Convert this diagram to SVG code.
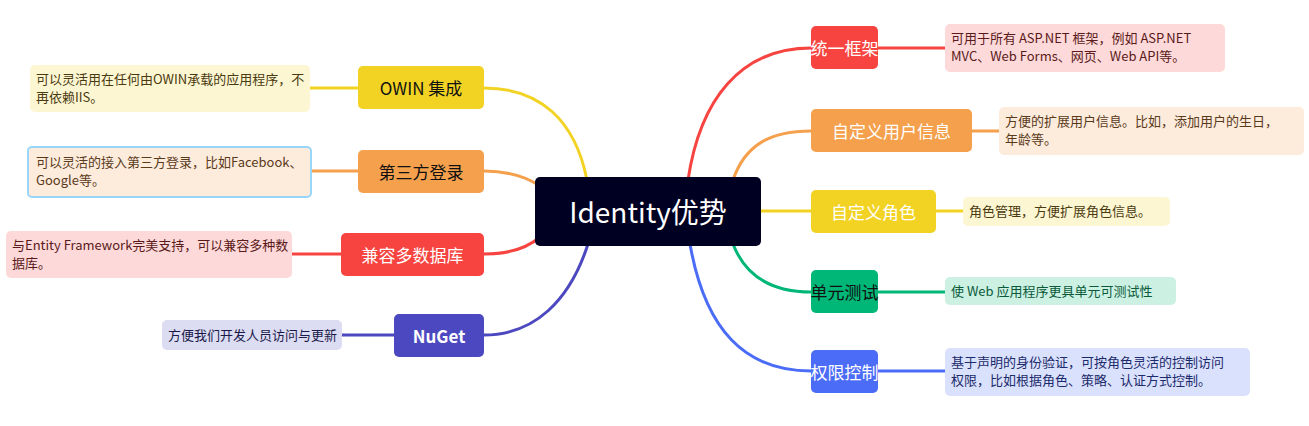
<svg xmlns="http://www.w3.org/2000/svg" width="1309" height="426" viewBox="0 0 1309 426">
<style>
text{font-family:"Noto Sans CJK SC","Noto Sans",sans-serif}
.n{font-size:17px;text-anchor:middle;dominant-baseline:central}
.t{font-size:13px}
.c{fill:none;stroke-width:3}
</style>
<rect width="1309" height="426" fill="#fff"/>
<g id="connectors">
<path class="c" stroke="#f74440" d="M688 180 C700 100 740 48 811 48 M878 48 H945"/>
<path class="c" stroke="#f5a04c" d="M733 180 C745 145 770 131 811 131 M972 131 H999"/>
<path class="c" stroke="#f2d324" d="M761 211 H811 M936 211 H963"/>
<path class="c" stroke="#00b777" d="M733 244 C745 275 770 292 811 292 M878 292 H945"/>
<path class="c" stroke="#4b6cf6" d="M690 244 C705 330 745 371 811 371 M878 371 H945"/>
<path class="c" stroke="#f2d324" d="M587 180 C575 120 540 88 484 88 M358 88 H310"/>
<path class="c" stroke="#f5a04c" d="M540 186 C525 176 505 171 484 171 M358 171 H311"/>
<path class="c" stroke="#f74440" d="M540 237 C525 250 505 254 484 254 M341 254 H292"/>
<path class="c" stroke="#4c49c0" d="M588 244 C570 300 535 335 484 335 M394 335 H342"/>
</g>
<g id="center"><rect x="535" y="177" width="226" height="69" rx="5" fill="#000022"/><text class="n" x="648" y="211" fill="#fff" style="font-size:28px">Identity优势</text></g>
<g id="r1"><rect x="811" y="26" width="67" height="43" rx="5" fill="#f74440"/><text class="n" x="844.5" y="47.5" fill="#fff">统一框架</text>
<rect x="945" y="24" width="280" height="48" rx="5" fill="#fed9d9"/><text class="t" fill="#5a1a1a"><tspan x="951" y="43">可用于所有 ASP.NET 框架，例如 ASP.NET</tspan><tspan x="951" y="61">MVC、Web Forms、网页、Web API等。</tspan></text></g>
<g id="r2"><rect x="811" y="109" width="161" height="43" rx="5" fill="#f5a04c"/><text class="n" x="891.5" y="130.5" fill="#fff">自定义用户信息</text>
<rect x="999" y="107" width="305" height="48" rx="5" fill="#fdebdc"/><text class="t" fill="#5a3a1a"><tspan x="1005" y="126">方便的扩展用户信息。比如，添加用户的生日，</tspan><tspan x="1005" y="144">年龄等。</tspan></text></g>
<g id="r3"><rect x="811" y="190" width="125" height="43" rx="5" fill="#f2d324"/><text class="n" x="873.5" y="211.5" fill="#fff">自定义角色</text>
<rect x="963" y="197" width="207" height="29" rx="5" fill="#fdf6d2"/><text class="t" fill="#4a3a10" x="969" y="216">角色管理，方便扩展角色信息。</text></g>
<g id="r4"><rect x="811" y="270" width="67" height="43" rx="5" fill="#00b777"/><text class="n" x="844.5" y="291.5" fill="#111">单元测试</text>
<rect x="945" y="277" width="231" height="28" rx="5" fill="#ccf1e3"/><text class="t" fill="#0a5a3a" x="951" y="296">使 Web 应用程序更具单元可测试性</text></g>
<g id="r5"><rect x="811" y="350" width="67" height="43" rx="5" fill="#4b6cf6"/><text class="n" x="844.5" y="371.5" fill="#fff">权限控制</text>
<rect x="945" y="348" width="305" height="48" rx="5" fill="#dae1fd"/><text class="t" fill="#1a2a6a"><tspan x="951" y="367">基于声明的身份验证，可按角色灵活的控制访问</tspan><tspan x="951" y="385">权限，比如根据角色、策略、认证方式控制。</tspan></text></g>
<g id="l1"><rect x="358" y="66" width="126" height="43" rx="5" fill="#f2d324"/><text class="n" x="421" y="87.5" fill="#111">OWIN 集成</text>
<rect x="30" y="65" width="280" height="47" rx="5" fill="#fdf6d2"/><text class="t" fill="#4a3a10"><tspan x="36" y="84">可以灵活用在任何由OWIN承载的应用程序，不</tspan><tspan x="36" y="102">再依赖IIS。</tspan></text></g>
<g id="l2"><rect x="358" y="150" width="126" height="43" rx="5" fill="#f5a04c"/><text class="n" x="421" y="171.5" fill="#111">第三方登录</text>
<rect x="28" y="147" width="283" height="50" rx="4" fill="#fdebdc" stroke="#99d6fb" stroke-width="2"/><text class="t" fill="#5a3a1a"><tspan x="36" y="167">可以灵活的接入第三方登录，比如Facebook、</tspan><tspan x="36" y="185">Google等。</tspan></text></g>
<g id="l3"><rect x="341" y="233" width="143" height="43" rx="5" fill="#f74440"/><text class="n" x="412.5" y="254.5" fill="#fff">兼容多数据库</text>
<rect x="6" y="231" width="286" height="47" rx="5" fill="#fed9d9"/><text class="t" fill="#5a1a1a"><tspan x="12" y="250">与Entity Framework完美支持，可以兼容多种数</tspan><tspan x="12" y="268">据库。</tspan></text></g>
<g id="l4"><rect x="394" y="314" width="90" height="43" rx="5" fill="#4c49c0"/><text class="n" x="439" y="335.5" fill="#fff" font-weight="bold">NuGet</text>
<rect x="162" y="320" width="180" height="30" rx="5" fill="#dcdcf2"/><text class="t" fill="#1a1a4a" x="168" y="340">方便我们开发人员访问与更新</text></g>
</svg>
